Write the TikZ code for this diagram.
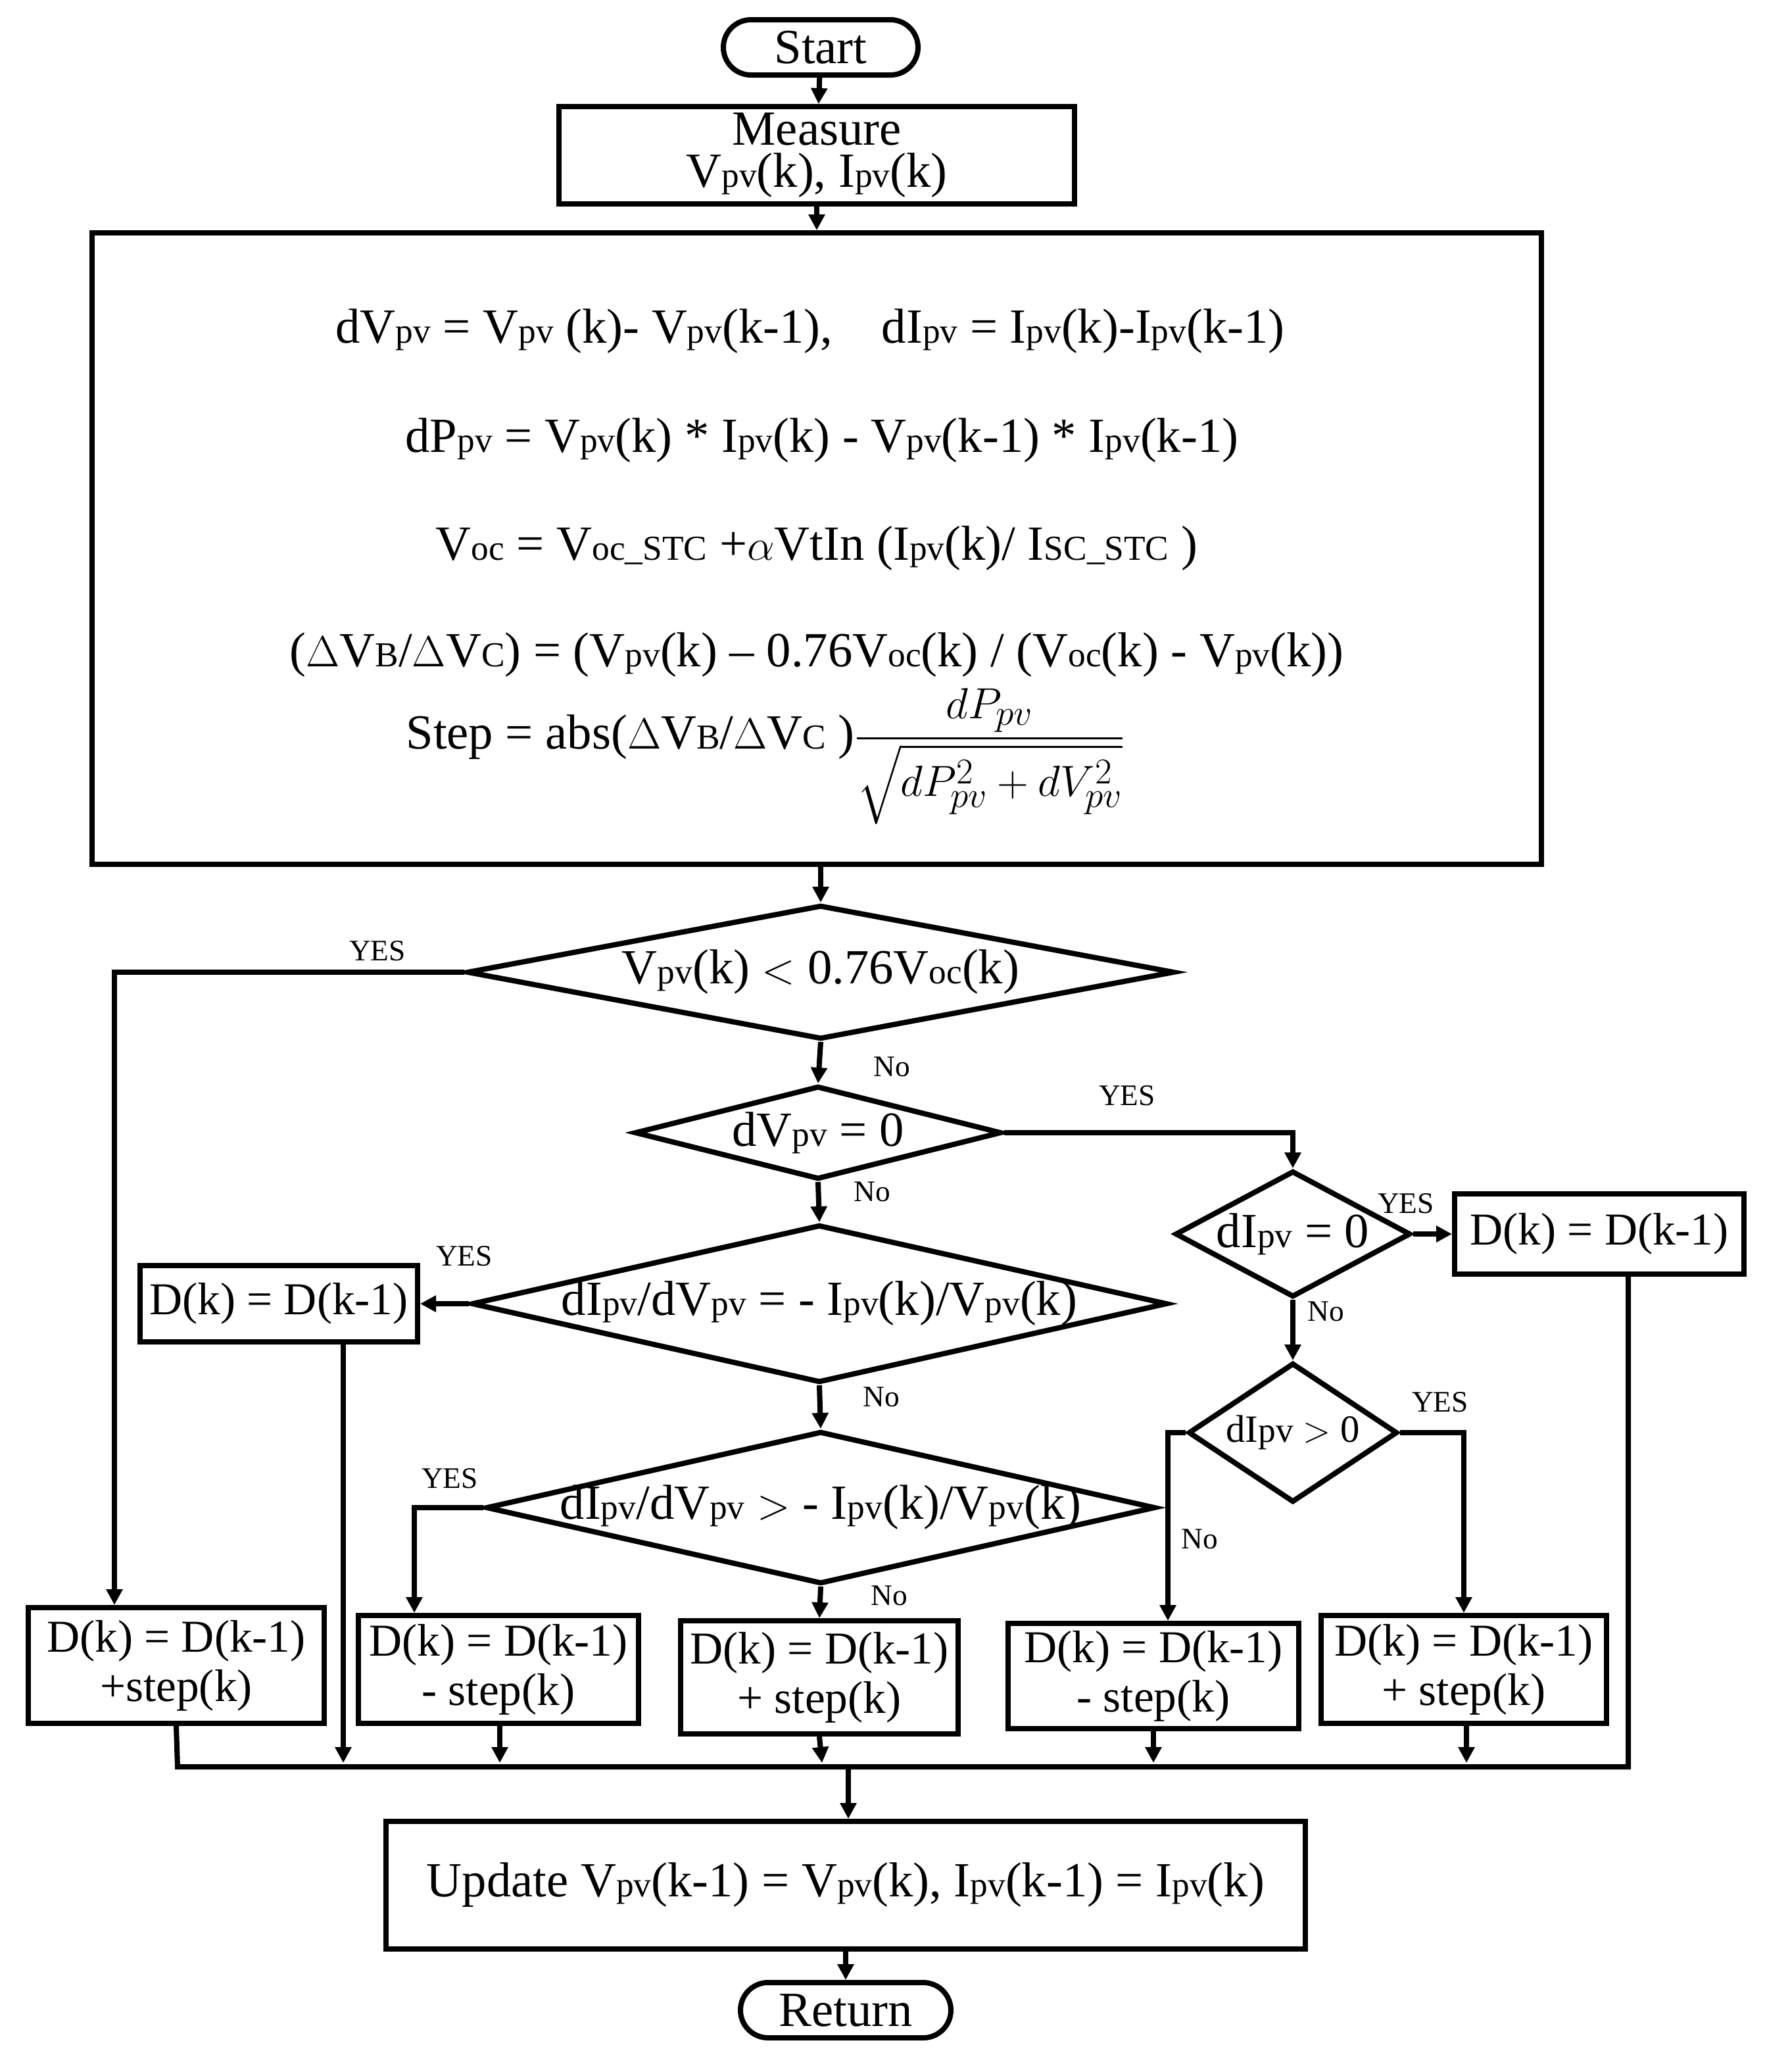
\documentclass[tikz,border=0pt]{standalone}
\usepackage{amsmath}
\usepackage{fontspec}
\setmainfont{Liberation Serif}
\usetikzlibrary{shapes.geometric,arrows.meta}
\newcommand\lo[1]{{\fontsize{20}{20}\selectfont #1}}
\begin{document}
\begin{tikzpicture}[x=0.75pt,y=-0.75pt,
  every node/.style={font=\fontsize{28}{30}\selectfont},
  line width=3pt,
  ln/.style={line width=3pt},
  ar/.style={line width=3pt,-{Triangle[length=9pt,width=9pt]}},
  lab/.style={font=\fontsize{17}{18}\selectfont},
  term/.style={draw,rounded corners=21*0.75pt,minimum width=148*0.75pt,minimum height=42*0.75pt,inner sep=0pt},
  box/.style={draw,inner sep=0pt,align=center},
  dbox/.style={box,font=\fontsize{26}{26}\selectfont},
  dia/.style={draw,diamond,inner sep=0pt,align=center}]
\useasboundingbox (0,0) rectangle (1342,1575);
% Start / measure
\node[term] (start) at (624,36) {Start};
\node[box,minimum width=392*0.75pt,minimum height=74*0.75pt] (meas) at (621,118) {Measure\\[-6pt]V\lo{pv}(k), I\lo{pv}(k)};
\node[box,minimum width=1102*0.75pt,minimum height=480*0.75pt] (calc) at (621,417) {};
\node (e1) at (616,252) {dV\lo{pv} = V\lo{pv} (k)- V\lo{pv}(k-1),\quad dI\lo{pv} = I\lo{pv}(k)-I\lo{pv}(k-1)};
\node (e2) at (625,335) {dP\lo{pv} = V\lo{pv}(k) * I\lo{pv}(k) - V\lo{pv}(k-1) * I\lo{pv}(k-1)};
\node (e3) at (621,417) {V\lo{oc} = V\lo{oc\_STC} +{\fontsize{40}{40}\selectfont$\alpha$}VtIn (I\lo{pv}(k)/ I\lo{SC\_STC} )};
\node (e4) at (621,498) {($\Delta$V\lo{B}/$\Delta$V\lo{C}) = (V\lo{pv}(k) -- 0.76V\lo{oc}(k) / (V\lo{oc}(k) - V\lo{pv}(k))};
\node (e5) at (582,575) {Step = abs($\Delta$V\lo{B}/$\Delta$V\lo{C} )$\dfrac{dP_{pv}}{\sqrt{dP_{pv}^{2}+dV_{pv}^{2}}}$};
\draw[ar] (start) -- (meas);
\draw[ar] (meas) -- (calc);
% diamonds
\node[dia,minimum width=538*0.75pt,minimum height=102*0.75pt] (d1) at (624,739) {};
\node at (624,739) {V\lo{pv}(k) $<$ 0.76V\lo{oc}(k)};
\node[dia,minimum width=279*0.75pt,minimum height=71*0.75pt] (d2) at (622,861) {};
\node at (622,861) {dV\lo{pv} = 0};
\node[dia,minimum width=179*0.75pt,minimum height=96*0.75pt] (d3) at (983,938) {};
\node at (983,938) {dI\lo{pv} = 0};
\node[dia,minimum width=159*0.75pt,minimum height=106*0.75pt] (d4) at (983,1089) {};
\node[font=\fontsize{22}{24}\selectfont] at (983,1089) {dI\lo{pv} $>$ 0};
\node[dia,minimum width=529*0.75pt,minimum height=120*0.75pt] (d5) at (623,991) {};
\node at (623,991) {dI\lo{pv}/dV\lo{pv} = - I\lo{pv}(k)/V\lo{pv}(k)};
\node[dia,minimum width=509*0.75pt,minimum height=116*0.75pt] (d6) at (624,1146) {};
\node at (624,1146) {dI\lo{pv}/dV\lo{pv} $>$ - I\lo{pv}(k)/V\lo{pv}(k)};
\draw[ar] (calc.south -| d1.north) -- (d1.north);
% boxes
\node[dbox,minimum width=220*0.75pt,minimum height=61*0.75pt] (r1) at (1216,938) {D(k) = D(k-1)};
\node[dbox,minimum width=211*0.75pt,minimum height=58*0.75pt] (l1) at (212,991) {D(k) = D(k-1)};
\node[dbox,minimum width=225*0.75pt,minimum height=88*0.75pt] (bA) at (134,1266) {D(k) = D(k-1)\\[2pt]+step(k)};
\node[dbox,minimum width=213*0.75pt,minimum height=82*0.75pt] (bB) at (379,1269) {D(k) = D(k-1)\\[2pt]- step(k)};
\node[dbox,minimum width=211*0.75pt,minimum height=86*0.75pt] (bC) at (623,1275) {D(k) = D(k-1)\\[2pt]+ step(k)};
\node[dbox,minimum width=221*0.75pt,minimum height=80*0.75pt] (bD) at (877,1274) {D(k) = D(k-1)\\[2pt]- step(k)};
\node[dbox,minimum width=217*0.75pt,minimum height=82*0.75pt] (bE) at (1113,1269) {D(k) = D(k-1)\\[2pt]+ step(k)};
\node[box,minimum width=699*0.75pt,minimum height=97*0.75pt] (up) at (643,1433) {Update V\lo{pv}(k-1) = V\lo{pv}(k), I\lo{pv}(k-1) = I\lo{pv}(k)};
\node[term,minimum width=160*0.75pt] (ret) at (643,1528) {Return};
% connectors
\coordinate (c1) at (87,739);
\draw[ar] (d1.west) -- (c1) -- (bA.north -| c1);
\node[lab] at (287,723) {YES};
\draw[ar] (d1.south) -- (d2.north);
\node[lab] at (678,811) {No};
\coordinate (c2) at (983,861);
\draw[ar] (d2.east) -- (c2) -- (d3.north);
\node[lab] at (857,833) {YES};
\draw[ar] (d3.east) -- (r1.west);
\node[lab] at (1069,915) {YES};
\draw[ar] (d3.south) -- (d4.north);
\node[lab] at (1008,997) {No};
\coordinate (c3) at (888,1089);
\draw[ar] (d4.west) -- (c3) -- (c3 |- bD.north);
\node[lab] at (912,1170) {No};
\coordinate (c4) at (1113,1089);
\draw[ar] (d4.east) -- (c4) -- (bE.north);
\node[lab] at (1095,1066) {YES};
\draw[ar] (d2.south) -- (d5.north);
\node[lab] at (663,906) {No};
\draw[ar] (d5.west) -- (l1.east);
\node[lab] at (353,955) {YES};
\draw[ar] (d5.south) -- (d6.north);
\node[lab] at (670,1062) {No};
\coordinate (c5) at (315,1146);
\draw[ar] (d6.west) -- (c5) -- (c5 |- bB.north);
\node[lab] at (342,1124) {YES};
\draw[ar] (d6.south) -- (bC.north);
\node[lab] at (676,1213) {No};
% bus
\coordinate (bl) at (135,1343);
\coordinate (br) at (1238,1343);
\coordinate (bm) at (645,1343);
\draw[ln] (bA.south) -- (bl) -- (br) -- (br |- r1.south);
\draw[ar] (261,1020) -- (261,1340);
\draw[ar] (bB.south -| 380,0) -- (380,1340);
\draw[ar] (bC.south) -- (625,1340);
\draw[ar] (bD.south) -- (877,1340);
\draw[ar] (bE.south -| 1115,0) -- (1115,1340);
\draw[ar] (bm) -- (bm |- up.north);
\draw[ar] (up.south) -- (ret.north);
\end{tikzpicture}
\end{document}
